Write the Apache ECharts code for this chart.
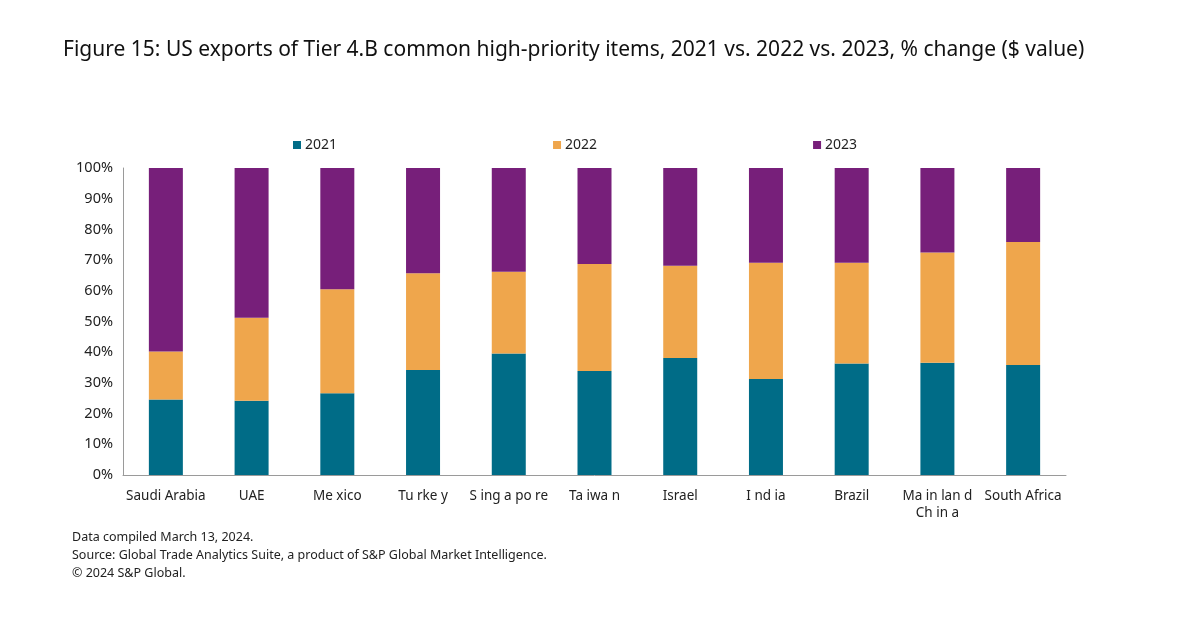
<!DOCTYPE html>
<html>
<head>
<meta charset="utf-8">
<script src="https://cdn.jsdelivr.net/npm/echarts@6/dist/echarts.min.js"></script>
<style>
  html, body { margin: 0; padding: 0; background: #ffffff; }
  #chart { width: 1200px; height: 627px; }
</style>
</head>
<body>
<div id="chart"></div>
<script>
const categories = ["Saudi Arabia", "UAE", "Me xico", "Tu rke y", "S ing a po re", "Ta iwa n", "Israel", "I nd ia", "Brazil", "Ma in lan d\nCh in a", "South Africa"];
const share2021 = [24.6, 24.2, 26.6, 34.2, 39.6, 33.9, 38.1, 31.3, 36.3, 36.6, 35.8];
const share2022 = [15.6, 27.0, 33.9, 31.5, 26.6, 34.8, 30.1, 37.8, 32.8, 35.9, 40.1];
const share2023 = [59.8, 48.8, 39.5, 34.3, 33.8, 31.3, 31.8, 30.9, 30.9, 27.5, 24.1];
const seriesNames = ["2021", "2022", "2023"];
const colors = ["#006C87", "#EFA64C", "#771F7A"];
const titleText = "Figure 15: US exports of Tier 4.B common high-priority items, 2021 vs. 2022 vs. 2023, % change ($ value)";
const notes = [
  "Data compiled March 13, 2024.",
  "Source: Global Trade Analytics Suite, a product of S&P Global Market Intelligence.",
  "© 2024 S&P Global."
];

const font = "'Noto Sans', 'Liberation Sans', sans-serif";
const chart = echarts.init(document.getElementById('chart'), null, { renderer: 'canvas' });
const dataSets = [share2021, share2022, share2023];

chart.setOption({
  backgroundColor: '#ffffff',
  animation: false,
  title: {
    text: titleText,
    left: 58, top: 35,
    textStyle: { fontFamily: font, fontSize: 21, fontWeight: 'normal', color: '#111' }
  },
  legend: {
    data: seriesNames,
    left: 288, top: 133,
    itemWidth: 8, itemHeight: 8, itemGap: 216,
    icon: 'rect',
    textStyle: { fontFamily: font, fontSize: 14, color: '#222', padding: [0, 0, 0, -1] }
  },
  grid: { left: 123, right: 134, top: 168, bottom: 152, containLabel: false },
  xAxis: {
    type: 'category',
    data: categories,
    axisLine: { show: true, lineStyle: { color: '#9a9a9a', width: 1 } },
    axisTick: { show: false },
    axisLabel: { fontFamily: font, fontSize: 13.5, color: '#222', margin: 13, interval: 0, lineHeight: 17 }
  },
  yAxis: {
    type: 'value',
    min: 0, max: 100, interval: 10,
    axisLine: { show: true, lineStyle: { color: '#9a9a9a', width: 1 } },
    axisTick: { show: false },
    splitLine: { show: false },
    axisLabel: { fontFamily: font, fontSize: 14.5, color: '#222', margin: 10, formatter: v => v + '%' }
  },
  series: seriesNames.map((name, i) => ({
    name: name,
    type: 'bar',
    stack: 'total',
    barWidth: 34,
    itemStyle: { color: colors[i] },
    data: dataSets[i]
  })),
  graphic: notes.map((t, i) => ({
    type: 'text',
    left: 72, top: 531 + i * 18,
    style: { text: t, fontFamily: font, fontSize: 12.5, fill: '#222' }
  }))
});
</script>
</body>
</html>
